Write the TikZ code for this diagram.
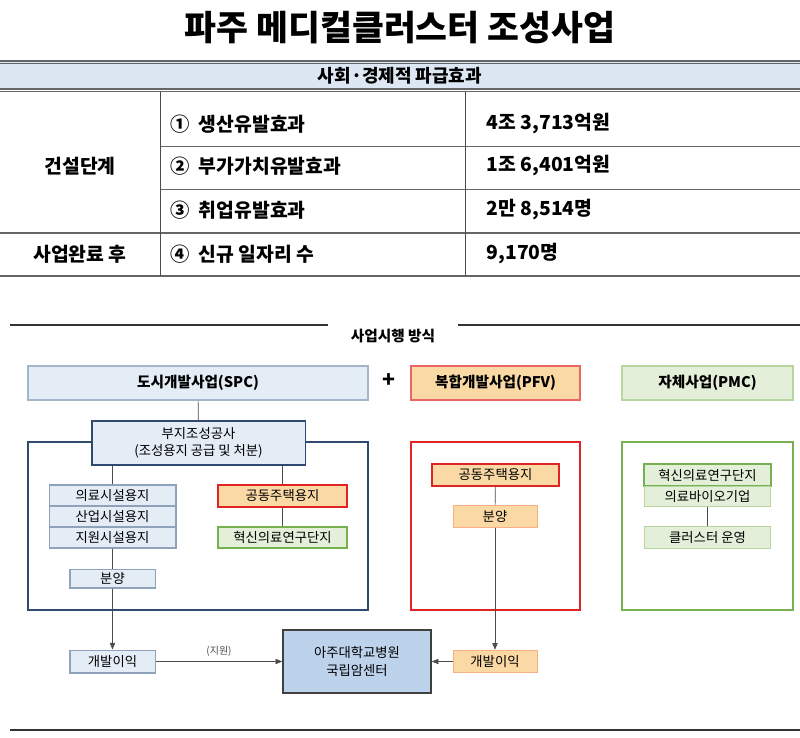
\documentclass[tikz,border=0pt]{standalone}
\usepackage{fontspec}
\setmainfont{Noto Sans CJK KR}
\usetikzlibrary{arrows.meta}
\definecolor{bandblue}{HTML}{DDE7F3}
\definecolor{lightblue}{HTML}{E4ECF6}
\definecolor{grayblue}{HTML}{8EA2BC}
\definecolor{darkblue}{HTML}{2F4A6E}
\definecolor{midblue}{HTML}{BDD3EC}
\definecolor{peach}{HTML}{FAD9A5}
\definecolor{redline}{HTML}{E02424}
\definecolor{lightgreen}{HTML}{E3EFD9}
\definecolor{greenline}{HTML}{76B04F}
\definecolor{palegreen}{HTML}{B7D6A0}
\tikzset{
  cell/.style={font=\fontsize{14.5}{18}\selectfont\bfseries},
  bluebox/.style={draw=grayblue, fill=lightblue, line width=1pt, inner sep=0pt, font=\fontsize{10}{13}\selectfont},
  peachbox/.style={draw=redline, fill=peach, line width=1.3pt, inner sep=0pt, font=\fontsize{10}{13}\selectfont},
  softpeach/.style={draw=peach!80!red, fill=peach, line width=0.6pt, inner sep=0pt, font=\fontsize{10}{13}\selectfont},
  greenbox/.style={draw=greenline, fill=lightgreen, line width=1.3pt, inner sep=0pt, font=\fontsize{10}{13}\selectfont},
  softgreen/.style={draw=palegreen, fill=lightgreen, line width=0.8pt, inner sep=0pt, font=\fontsize{10}{13}\selectfont},
  headbox/.style={line width=1.5pt, inner sep=0pt, font=\fontsize{11}{13}\selectfont\bfseries},
  frame/.style={line width=1.2pt},
  link/.style={draw=black!70, line width=0.5pt},
  arr/.style={link, -{Triangle[width=4pt,length=5pt]}}
}
\begin{document}
\begin{tikzpicture}[x=0.75pt,y=-0.75pt]
\useasboundingbox (0,0) rectangle (800,738);
% title
\node[font=\fontsize{26}{30}\selectfont\bfseries] (title) at (400,28) {파주 메디컬클러스터 조성사업};
% table
\fill[bandblue] (0,62) rectangle (800,89);
\draw[black!60, line width=0.8pt] (0,61) -- (800,61) (0,63.5) -- (800,63.5);
\draw[black!60, line width=0.8pt] (0,89) -- (800,89) (0,91.5) -- (800,91.5);
\node[font=\fontsize{13.5}{16}\selectfont\bfseries] (head) at (400,76) {사회·경제적 파급효과};
\draw[black!60, line width=0.6pt] (160,146) -- (800,146) (160,189) -- (800,189);
\draw[black!60, line width=0.8pt] (0,233) -- (800,233) (0,276) -- (800,276);
\draw[black!70, line width=0.6pt] (160,92) -- (160,276) (465,92) -- (465,276);
\node[cell] (stage) at (80,166) {건설단계};
\node[cell] (after) at (80,254) {사업완료 후};
\foreach \y/\item/\val in {124/① \ 생산유발효과/{4조 3,713억원},
    166/② \ 부가가치유발효과/{1조 6,401억원},
    210/③ \ 취업유발효과/{2만 8,514명},
    254/④ \ 신규 일자리 수/{9,170명}}{
  \node[cell, anchor=west] at (166,\y) {\item};
  \node[cell, anchor=west] at (482,\y) {\val};
}
% section rules
\draw[black!80, line width=2pt] (10,325) -- (328,325) (458,325) -- (800,325);
\draw[black!80, line width=2pt] (10,730) -- (800,730);
\node[font=\fontsize{11}{13}\selectfont\bfseries] (method) at (393,336) {사업시행 방식};
% heads
\node[headbox, draw=grayblue!80, fill=lightblue, minimum width=255pt, minimum height=25pt] (spc) at (198,383) {도시개발사업(SPC)};
\node[font=\fontsize{16}{16}\selectfont\bfseries] (plus) at (389,381) {+};
\node[headbox, draw=redline!70, fill=peach, minimum width=127pt, minimum height=25pt] (pfv) at (495.5,383) {복합개발사업(PFV)};
\node[headbox, draw=palegreen, fill=lightgreen, minimum width=128pt, minimum height=25pt] (pmc) at (707.5,383) {자체사업(PMC)};
% frames
\draw[frame, darkblue] (28,442) rectangle (368,610);
\draw[frame, redline] (411,442) rectangle (580,610);
\draw[frame, greenline] (622,442) rectangle (793,610);
% SPC branch
\node[bluebox, draw=darkblue, align=center, minimum width=160pt, minimum height=33pt] (site) at (198.5,443) {부지조성공사\\(조성용지 공급 및 처분)};
\node[bluebox, minimum width=95pt, minimum height=15.75pt] (med) at (112.5,495.5) {의료시설용지};
\node[bluebox, minimum width=95pt, minimum height=15.75pt] (ind) at (112.5,516.5) {산업시설용지};
\node[bluebox, minimum width=95pt, minimum height=15.75pt] (supp) at (112.5,537.5) {지원시설용지};
\node[bluebox, minimum width=64pt, minimum height=14pt] (sale) at (112.5,578.5) {분양};
\node[bluebox, minimum width=64pt, minimum height=17pt] (gain) at (112.5,661.5) {개발이익};
\node[peachbox, minimum width=97pt, minimum height=16.5pt] (house) at (282.5,496) {공동주택용지};
\node[greenbox, minimum width=97pt, minimum height=16pt] (rnd) at (282.5,537.5) {혁신의료연구단지};
\draw[link] (spc) -- (site);
\draw[link] (site.south -| med) -- (med);
\draw[link] (supp) -- (sale);
\draw[arr] (sale) -- (gain);
\draw[link] (site.south -| house) -- (house);
\draw[link] (house) -- (rnd);
% hospital
\node[bluebox, draw=black!75, fill=midblue, align=center, minimum width=111pt, minimum height=47pt, line width=1.2pt] (hosp) at (357,661.5) {아주대학교병원\\국립암센터};
\draw[arr] (gain) -- node[above, font=\fontsize{7.5}{9}\selectfont, text=black!70] {(지원)} (hosp);
% PFV branch
\node[peachbox, minimum width=95pt, minimum height=16.5pt] (house2) at (495.5,475) {공동주택용지};
\node[softpeach, minimum width=63pt, minimum height=16pt] (sale2) at (495,516.5) {분양};
\node[softpeach, minimum width=63pt, minimum height=17pt] (gain2) at (495,661.5) {개발이익};
\draw[link] (house2) -- (sale2);
\draw[arr] (sale2) -- (gain2);
\draw[arr] (gain2) -- (hosp);
% PMC branch
\node[greenbox, minimum width=95pt, minimum height=16.5pt] (rnd2) at (707.5,475) {혁신의료연구단지};
\node[softgreen, minimum width=95pt, minimum height=15.5pt] (bio) at (707.5,496.5) {의료바이오기업};
\node[softgreen, minimum width=95pt, minimum height=16pt] (run) at (707.5,537.5) {클러스터 운영};
\draw[link] (bio) -- (run);
\end{tikzpicture}
\end{document}
